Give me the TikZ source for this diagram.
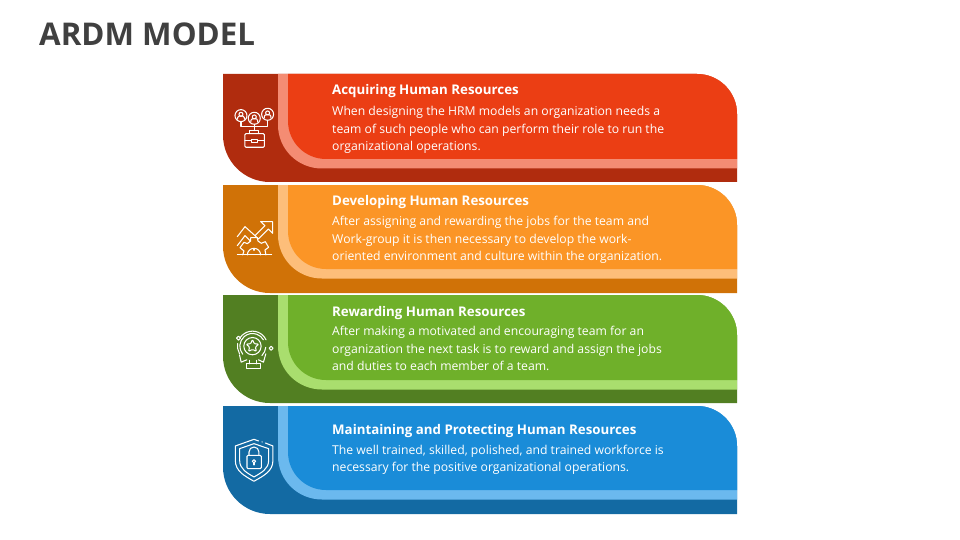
\documentclass[tikz,border=0pt]{standalone}
\usepackage{fontspec}
\setmainfont{Open Sans}
\definecolor{titlegray}{HTML}{404040}
\definecolor{acqdark}{HTML}{B02C0E}
\definecolor{acqlight}{HTML}{F48C73}
\definecolor{acqmain}{HTML}{EB3E14}
\definecolor{devdark}{HTML}{D07207}
\definecolor{devlight}{HTML}{FDBE7A}
\definecolor{devmain}{HTML}{FB9526}
\definecolor{rewdark}{HTML}{527F22}
\definecolor{rewlight}{HTML}{A9DE6E}
\definecolor{rewmain}{HTML}{6FB02A}
\definecolor{mntdark}{HTML}{136AA3}
\definecolor{mntlight}{HTML}{6BB9EE}
\definecolor{mntmain}{HTML}{1A8CD8}
\tikzset{
	headtext/.style={anchor=west, inner sep=0pt, text=white, font=\fontsize{13.3}{16}\selectfont\bfseries},
	bodytext/.style={anchor=west, inner sep=0pt, text=white, align=left, font=\fontsize{12.2}{17.3}\selectfont},
	icon/.style={draw=white, line width=1.05pt, line join=round, line cap=round, x=0.333pt, y=-0.333pt},
}
\begin{document}
\begin{tikzpicture}[x=1pt, y=-1pt]
	\useasboundingbox (0,0) rectangle (960,540);
	\fill[white] (0,0) rectangle (960,540);
	\node[anchor=west, inner sep=0pt, text=titlegray, font=\fontsize{31.3}{36}\selectfont\bfseries] (title) at (39,34) {ARDM MODEL};
	% the four bands
	\foreach \t/\c/\m in {74/acq/85, 185/dev/84, 295/rew/85, 406/mnt/84} {
		\fill[\c dark] (223,\t) -- (697,\t) to[out=0,in=90] (737,\t+40) -- (737,\t+108) -- (270,\t+108) to[out=180,in=-90] (223,\t+61) -- cycle;
		\fill[\c light] (278,\t) -- (697,\t) to[out=0,in=90] (737,\t+40) -- (737,\t+\m+9.5) -- (322,\t+\m+9.5) to[out=180,in=-90] (278,\t+\m-34) -- cycle;
		\fill[\c main] (288,\t) -- (697,\t) to[out=0,in=90] (737,\t+40) -- (737,\t+\m) -- (326,\t+\m) to[out=180,in=-90] (288,\t+\m-38) -- cycle;
	}
	% texts
	\node[headtext] (acqhead) at (332,91.5) {Acquiring Human Resources};
	\node[bodytext] (acqbody) at (332,130) {When designing the HRM models an organization needs a\\team of such people who can perform their role to run the\\organizational operations.};
	\node[headtext] (devhead) at (332,202.5) {Developing Human Resources};
	\node[bodytext] (devbody) at (332,240) {After assigning and rewarding the jobs for the team and\\Work-group it is then necessary to develop the work-\\oriented environment and culture within the organization.};
	\node[headtext] (rewhead) at (332,313.5) {Rewarding Human Resources};
	\node[bodytext] (rewbody) at (332,348.5) {After making a motivated and encouraging team for an\\organization the next task is to reward and assign the jobs\\and duties to each member of a team.};
	\node[headtext] (mnthead) at (332,431.5) {Maintaining and Protecting Human Resources};
	\node[bodytext] (mntbody) at (332,460) {The well trained, skilled, polished, and trained workforce is\\necessary for the positive organizational operations.};
	% people and briefcase
	\begin{scope}[shift={(215,65)}, icon]
		\draw (78,152) circle[radius=18] (118,160) circle[radius=18] (158,148) circle[radius=18];
		\foreach \a/\b in {78/152, 118/160, 158/148} {
			\draw (\a,\b-4) circle[radius=6];
			\draw (\a-10,\b+11) -- (\a-10,\b+6) to[out=90,in=180] (\a,\b+1) to[out=0,in=90] (\a+10,\b+6) -- (\a+10,\b+11);
		}
		\draw (78,170) -- (78,186) -- (158,186) -- (158,166) (118,178) -- (118,197);
		\draw[rounded corners=1pt] (90,206) rectangle (148,247);
		\draw (105,206) -- (105,197) -- (132,197) -- (132,206);
		\draw (90,226) -- (110,226) (128,226) -- (148,226);
		\draw (110,224) rectangle (128,232);
	\end{scope}
	% gear and rising arrow
	\begin{scope}[shift={(230,215)}, icon]
		\draw (22,120) -- (125,120);
		\draw (52,120) arc[start angle=-180, end angle=0, radius=20];
		\draw (72,100) -- (72,106);
		\draw (38,120) -- (42,108) -- (30,98) -- (42,82) -- (52,86) -- (62,78) -- (62,68) -- (82,68) -- (84,78) -- (94,85) -- (106,80) -- (116,97) -- (105,105) -- (108,120);
		\draw (22,65) -- (45,35) -- (75,62);
		\draw (22,92) -- (45,62) -- (60,77);
		\draw (92,20) -- (128,20) -- (128,55) -- (115,42) -- (85,72) -- (75,62) -- (105,32) -- cycle;
	\end{scope}
	% award badge
	\begin{scope}[shift={(228.5,325.5)}, icon]
		\draw (72,62) circle[radius=26];
		\draw[rounded corners=1pt] (72,42) -- (77.3,54.7) -- (91,56) -- (80.6,64.8) -- (84,78) -- (72,71.5) -- (60,78) -- (63.4,64.8) -- (53,56) -- (66.7,54.7) -- cycle;
		\draw (72,62) ++(-145:45) arc[start angle=-145, end angle=-25, radius=45];
		\draw (72,62) ++(-220:38) arc[start angle=-220, end angle=-30, radius=38];
		\draw (72,62) ++(5:40) arc[start angle=5, end angle=45, radius=40];
		\draw (72,62) ++(-170:45) arc[start angle=-170, end angle=-210, radius=45];
		\draw (30,32) -- (36,38) -- (30,44) -- (24,38) -- cycle (128,62) -- (134,68) -- (128,74) -- (122,68) -- cycle;
		\draw (33,88) -- (38,110) -- (55,103) (112,85) -- (105,110) -- (90,103);
		\draw (62,105) -- (62,115) (85,105) -- (85,115);
		\draw (55,115) rectangle (95,128);
	\end{scope}
	% shield and lock
	\begin{scope}[shift={(228,432)}, icon]
		\draw (92,27) -- (78,22) -- (22,42) -- (22,85) to[out=-90,in=150] (78,148) to[out=30,in=-90] (135,85) -- (135,42) -- (112,33);
		\draw (102,29.5) -- (103,30);
		\draw (78,35) -- (122,50) -- (122,85) to[out=-90,in=30] (78,135) to[out=150,in=-90] (35,85) -- (35,50) -- cycle;
		\draw[rounded corners=1pt] (57,70) rectangle (100,110);
		\draw (63,70) -- (63,60) to[out=90,in=180] (78,45) to[out=0,in=90] (93,60) -- (93,70);
		\draw (78,88) circle[radius=5];
		\draw (78,93) -- (78,99);
	\end{scope}
\end{tikzpicture}
\end{document}
